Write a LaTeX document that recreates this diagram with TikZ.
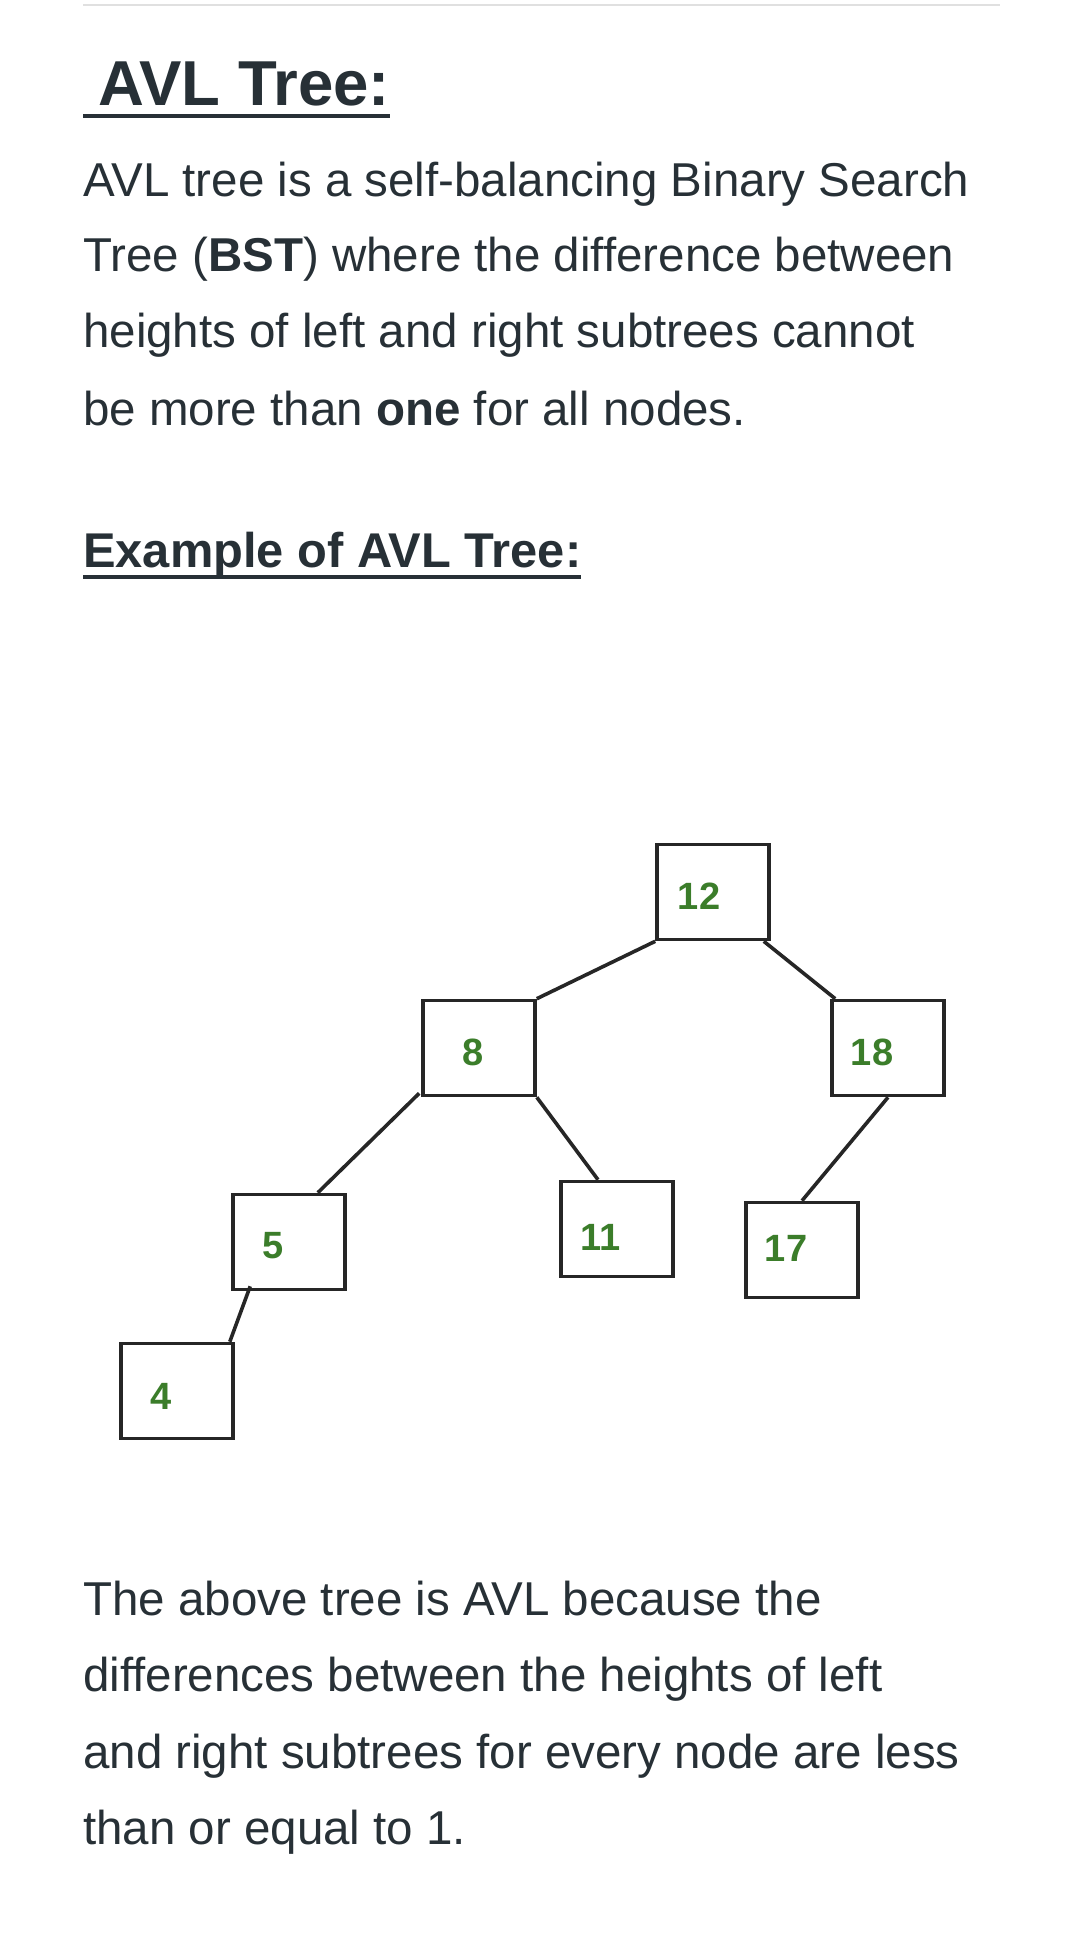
\documentclass[tikz,border=0pt]{standalone}
\usepackage{fontspec}
\setmainfont{Liberation Sans}
\definecolor{txt}{HTML}{273036}
\definecolor{grn}{HTML}{3B7D2A}
\begin{document}
\begin{tikzpicture}[x=1pt,y=-1pt,
  para/.style={anchor=base west,inner sep=0,text=txt,font=\fontsize{47.5}{54}\selectfont},
  head/.style={anchor=base west,inner sep=0,text=txt},
  ul/.style={txt,line width=4pt},
  tbox/.style={draw=black!85,line width=3.6pt,minimum width=112pt,minimum height=95pt,inner sep=0},
  lbl/.style={text=grn,font=\fontsize{38}{38}\selectfont\bfseries},
  edge/.style={line width=3.6pt,black!85}]
\useasboundingbox (0,0) rectangle (1068,1950);
\fill[white] (0,0) rectangle (1068,1950);
\draw[black!12,line width=2pt] (83,5) -- (1000,5);
% title
\node[head,font=\fontsize{63.5}{63}\selectfont\bfseries] (title) at (98,106) {AVL Tree:};
\draw[ul] (83,116) -- (title.base east |- 0,116);
\node[para] (p1) at (83,197) {AVL tree is a self-balancing Binary Search};
\node[para] (p2) at (83,272) {Tree (\textbf{BST}) where the difference between};
\node[para] (p3) at (83,348) {heights of left and right subtrees cannot};
\node[para] (p4) at (83,425) {be more than \textbf{one} for all nodes.};
\node[head,font=\fontsize{48.8}{48}\selectfont\bfseries] (ex) at (83,567) {Example of AVL Tree:};
\draw[ul,line width=3.5pt] (83,577) -- (ex.base east |- 0,577);
% tree
\node[tbox] (n12) at (713,892) {};
\node[tbox] (n8) at (479,1048) {};
\node[tbox] (n18) at (888,1048) {};
\node[tbox] (n5) at (289,1242) {};
\node[tbox] (n11) at (617,1229) {};
\node[tbox] (n17) at (802,1250) {};
\node[tbox] (n4) at (177,1391) {};
\node[lbl] (l12) at ([xshift=-14,yshift=-4]n12.center) {12};
\node[lbl] (l8) at ([xshift=-6,yshift=-4]n8.center) {8};
\node[lbl] (l18) at ([xshift=-16,yshift=-4]n18.center) {18};
\node[lbl] (l5) at ([xshift=-16,yshift=-4]n5.center) {5};
\node[lbl] (l11) at ([xshift=-16,yshift=-8]n11.center) {11};
\node[lbl] (l17) at ([xshift=-16,yshift=2]n17.center) {17};
\node[lbl] (l4) at ([xshift=-16,yshift=-5]n4.center) {4};
\draw[edge] (n12.south west) -- (n8.north east);
\draw[edge] ([xshift=-7]n12.south east) -- ([xshift=5]n18.north west);
\draw[edge] ([xshift=-2,yshift=4]n8.south west) -- ([xshift=-29]n5.north east);
\draw[edge] (n8.south east) -- ([xshift=-19]n11.north);
\draw[edge] (n18.south) -- (n17.north);
\draw[edge] ([xshift=19,yshift=5]n5.south west) -- ([xshift=-5]n4.north east);
% bottom text
\node[para] (q1) at (83,1615) {The above tree is AVL because the};
\node[para] (q2) at (83,1691) {differences between the heights of left};
\node[para] (q3) at (83,1768) {and right subtrees for every node are less};
\node[para] (q4) at (83,1844) {than or equal to 1.};
\end{tikzpicture}
\end{document}
